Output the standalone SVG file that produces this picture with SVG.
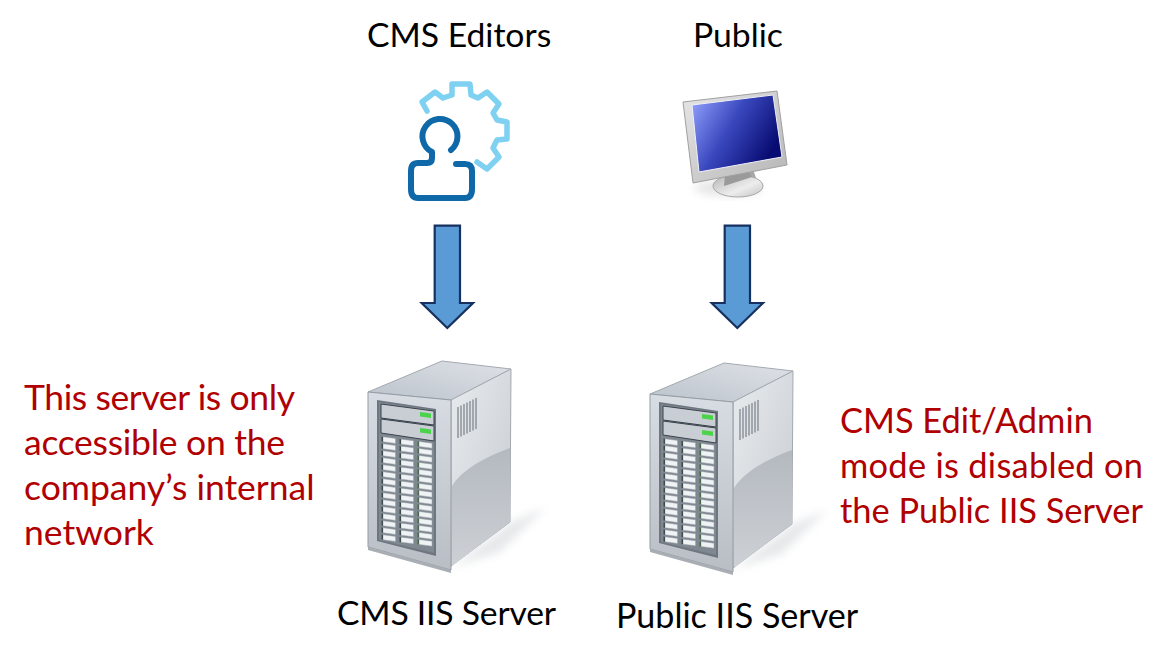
<svg xmlns="http://www.w3.org/2000/svg" width="1176" height="662" viewBox="0 0 1176 662">
<style>
text{font-family:"Lato","Carlito","Liberation Sans",sans-serif;font-size:33.700px;fill:#000}
.red{fill:#B00000}
.left{font-size:35.500px}
.right{font-size:34.400px}
.arrow{fill:#5B9BD5;stroke:#16315F;stroke-width:2.2}
.gear{fill:none;stroke:#7FD1F2;stroke-width:5.500;stroke-linecap:round;stroke-linejoin:round}
.person{fill:none;stroke:#0F68A8;stroke-width:6;stroke-linecap:round;stroke-linejoin:round}
.cell{fill:#F0F3F5;stroke:#9AA2A9;stroke-width:.5}
.vent{stroke:#6F7780;stroke-width:1.100;fill:none}
</style>
<defs>
<linearGradient id="side" x1="0" y1="0" x2="1" y2="1"><stop offset="0" stop-color="#E8EBEE"/><stop offset="1" stop-color="#C6CACF"/></linearGradient>
<linearGradient id="lower" x1="0" y1="0" x2="0" y2="1"><stop offset="0" stop-color="#B4B9BF"/><stop offset="1" stop-color="#CDD1D6"/></linearGradient>
<linearGradient id="top" x1="0" y1="1" x2="1" y2="0"><stop offset="0" stop-color="#BCC3CC"/><stop offset="1" stop-color="#DFE2E7"/></linearGradient>
<linearGradient id="front" x1="0" y1="0" x2="0" y2="1"><stop offset="0" stop-color="#D8DDE4"/><stop offset="1" stop-color="#B9BEC5"/></linearGradient>
<linearGradient id="screen" x1="0" y1="0" x2="1" y2=".5"><stop offset="0" stop-color="#95A5FF"/><stop offset=".5" stop-color="#3A48BE"/><stop offset="1" stop-color="#080C72"/></linearGradient>
<linearGradient id="bezel" x1="0" y1="0" x2="1" y2="1"><stop offset="0" stop-color="#E6E6E6"/><stop offset="1" stop-color="#B6B6B6"/></linearGradient>
<linearGradient id="base" x1="0" y1="0" x2="1" y2="1"><stop offset="0" stop-color="#B5B5B5"/><stop offset=".6" stop-color="#EDEDED"/><stop offset="1" stop-color="#C2C2C2"/></linearGradient>
<filter id="blur" x="-30%" y="-30%" width="160%" height="160%"><feGaussianBlur stdDeviation="4"/></filter>
<g id="bayrow">
<rect class="cell" x="383" y="0" width="12.500" height="5"/>
<rect class="cell" x="401" y="0" width="12.500" height="5"/>
<rect class="cell" x="419" y="0" width="13" height="5"/>
<rect x="381.500" y="0" width="1.500" height="5" fill="#3F4A4A"/>
<rect x="399.500" y="0" width="1.500" height="5" fill="#3F4A4A"/>
<rect x="417.500" y="0" width="1.500" height="5" fill="#4A6A4A"/>
</g>
<g id="server">
<path d="M452 567 L511 522 L545 508 L500 552Z" fill="#C8CCD0" opacity=".45" filter="url(#blur)"/>
<path d="M368 392 L442 361 L511 369 L451 400Z" fill="url(#top)" stroke="#A3A9B0" stroke-width="1"/>
<path d="M451 400 L511 369 L510 522 L451 566Z" fill="url(#side)" stroke="#A3A9B0" stroke-width="1"/>
<path d="M452 486 C460 472 482 458 510 448 L510 522 L452 566Z" fill="url(#lower)"/>
<path d="M368 392 L451 400 L451 570 L368 547Z" fill="url(#front)" stroke="#969CA3" stroke-width="1"/>
<path d="M368 547 L451 570 L451 573 L368 550Z" fill="#A9AEB4"/>
<path d="M377 400 L436 409 L436 556 L377 541Z" fill="#6E7680"/>
<path d="M379 402 L434 410 L434 553 L379 540Z" fill="#7F8790"/>
<path d="M381 404 L434 411 L434 425 L381 418Z" fill="#C8CED4" stroke="#3A424B" stroke-width="1"/>
<path d="M381 419 L434 426 L434 441 L381 433Z" fill="#C8CED4" stroke="#3A424B" stroke-width="1"/>
<path d="M420 412 L431 413.500 L431 418 L420 416.500Z" fill="#4BD34B"/>
<path d="M420 428 L431 429.500 L431 434 L420 432.500Z" fill="#4BD34B"/>
<g transform="matrix(1 .13 0 1 0 -51)">
<use href="#bayrow" y="438"/><use href="#bayrow" y="445"/><use href="#bayrow" y="452"/><use href="#bayrow" y="459"/><use href="#bayrow" y="466"/>
<use href="#bayrow" y="473"/><use href="#bayrow" y="480"/><use href="#bayrow" y="487"/><use href="#bayrow" y="494"/><use href="#bayrow" y="501"/>
<use href="#bayrow" y="508"/><use href="#bayrow" y="515"/><use href="#bayrow" y="522"/><use href="#bayrow" y="529"/><use href="#bayrow" y="536"/>
</g>
<path class="vent" d="M458 407V438M461 405.500V436.500M464 404V435M467 402.500V433.500M470 401V432M473 399.500V430.500M476 398V429"/>
</g>
</defs>
<g id="connectors">
<path id="arrow-cms" class="arrow" d="M434.700 225.700H460V303H473L447.300 328L421.700 303H434.700Z"/>
<path id="arrow-public" class="arrow" d="M724.700 225.700H750V303H763L737.300 328L711.700 303H724.700Z"/>
</g>
<g id="cms-editors">
<text x="367" y="47">CMS Editors</text>
<path class="gear" d="M427 111L422 102L435 92L443 98L452 95L452 84H470L471 95L478 98L487 92L499 104L493 113L497 120L507 122V139L497 140L493 148L499 157L487 169L477 162"/>
<path class="person" d="M451 150A17.500 17.500 0 1 0 432 152V158Q432 163 427 163H418Q411 163 411 171V189Q411 198 418 198H465Q472 198 472 189V171Q472 164 465 164H456"/>
</g>
<g id="public">
<text x="693" y="47">Public</text>
<ellipse cx="728" cy="188" rx="34" ry="8" fill="#D5D5D5" opacity=".6" filter="url(#blur)"/>
<path d="M725 172L752 166L756 178L723 186Z" fill="#A8A8A8"/>
<ellipse cx="738" cy="186" rx="25" ry="11" fill="url(#base)" stroke="#A8A8A8"/>
<path d="M725 175L748 170L752 177L724 186Z" fill="#9A9A9A"/>
<path d="M683 102L777 91L787 165L693 183Z" fill="url(#bezel)" stroke="#A0A0A0"/>
<path d="M692 105L773 95L782 157L699 172Z" fill="url(#screen)" stroke="#F0F0F8"/>
</g>
<g id="cms-iis-server">
<use href="#server"/>
<text x="337" y="625" textLength="219">CMS IIS Server</text>
</g>
<g id="public-iis-server">
<use href="#server" x="282" y="2"/>
<text x="616" y="628" style="font-size:34.100px">Public IIS Server</text>
</g>
<g id="note-left">
<text class="red left" x="24" y="410" textLength="271">This server is only</text>
<text class="red left" x="24" y="455" textLength="261">accessible on the</text>
<text class="red left" x="24" y="500">company’s internal</text>
<text class="red left" x="24" y="545">network</text>
</g>
<g id="note-right">
<text class="red right" x="840" y="433">CMS Edit/Admin</text>
<text class="red right" x="840" y="478" textLength="303">mode is disabled on</text>
<text class="red right" x="840" y="523">the Public IIS Server</text>
</g>
</svg>
